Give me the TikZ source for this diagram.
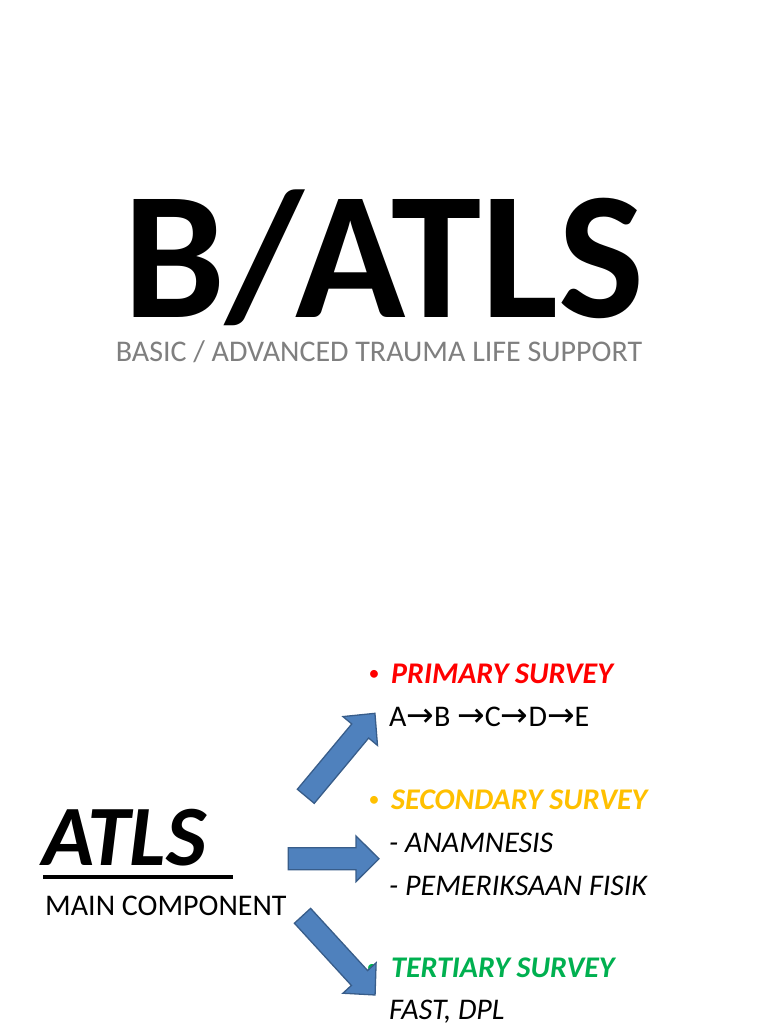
\documentclass[tikz,border=0pt]{standalone}
\usepackage{fontspec}
\setmainfont{Carlito}
\newfontfamily\symfont{DejaVu Sans}
\definecolor{subgray}{HTML}{7F7F7F}
\definecolor{pred}{HTML}{FF0000}
\definecolor{sorange}{HTML}{FFC000}
\definecolor{tgreen}{HTML}{00B050}
\definecolor{afill}{HTML}{4F81BD}
\definecolor{aline}{HTML}{385D8A}
\newcommand\myarrow{{\symfont\fontsize{33}{36}\selectfont →}}
\begin{document}
\begin{tikzpicture}[x=1pt,y=1pt,
  txt/.style={inner sep=0pt, anchor=base west, font=\fontsize{30}{36}\selectfont},
  head/.style={txt, font=\fontsize{30}{36}\selectfont\bfseries\itshape},
  item/.style={txt, font=\fontsize{30}{36}\selectfont\itshape},
  bul/.style={inner sep=0pt, anchor=base, font=\fontsize{22}{26}\selectfont},
  barrow/.style={fill=afill, draw=aline, line width=1.3pt, line join=miter}]
\useasboundingbox (0,0) rectangle (768,1024);
\fill[white] (0,0) rectangle (768,1024);

% title
\node[inner sep=0pt, anchor=base, font=\fontsize{182}{200}\selectfont\bfseries] (title) at (384,706) {B/ATLS};
\node[inner sep=0pt, anchor=base, text=subgray, font=\fontsize{30}{36}\selectfont] (sub) at (379,662) {BASIC / ADVANCED TRAUMA LIFE SUPPORT};

% left block
\node[inner sep=0pt, anchor=base west, font=\fontsize{86}{96}\selectfont\bfseries\itshape] (atls) at (42,158) {ATLS};
\coordinate (ul1) at (43,147);
\coordinate (ul2) at (233,147);
\draw[line width=4pt] (ul1) -- (ul2);
\node[txt] (main) at (45,108) {MAIN COMPONENT};

% right column
\node[bul, text=pred] (b1) at (374,343) {•};
\node[head, text=pred] (prim) at (391,340) {PRIMARY SURVEY};
\node[txt] (abcde) at (389,297) {A\myarrow B \myarrow C\myarrow D\myarrow E};
\node[bul, text=sorange] (b2) at (374,217) {•};
\node[head, text=sorange] (sec) at (391,214) {SECONDARY SURVEY};
\node[item] (anam) at (389,171) {- ANAMNESIS};
\node[item] (pem) at (389,128) {- PEMERIKSAAN FISIK};
\node[bul, text=tgreen] (b3) at (372,49) {•};
\node[head, text=tgreen] (ter) at (391,46) {TERTIARY SURVEY};
\node[item] (fast) at (389,5) {FAST, DPL};

% block arrows
\draw[barrow, shift={(305.8pt,227.7pt)}, rotate=50.2]
  (0,-11) -- (85,-11) -- (85,-22.5) -- (108,0) -- (85,22.5) -- (85,11) -- (0,11) -- cycle;
\draw[barrow, shift={(288.3pt,165.2pt)}]
  (0,-11) -- (67.7,-11) -- (67.7,-22.8) -- (90.7,0) -- (67.7,22.8) -- (67.7,11) -- (0,11) -- cycle;
\draw[barrow, shift={(302.5pt,108.2pt)}, rotate=-47.5]
  (0,-11) -- (84.4,-11) -- (84.4,-22.5) -- (107.4,0) -- (84.4,22.5) -- (84.4,11) -- (0,11) -- cycle;
\end{tikzpicture}
\end{document}
